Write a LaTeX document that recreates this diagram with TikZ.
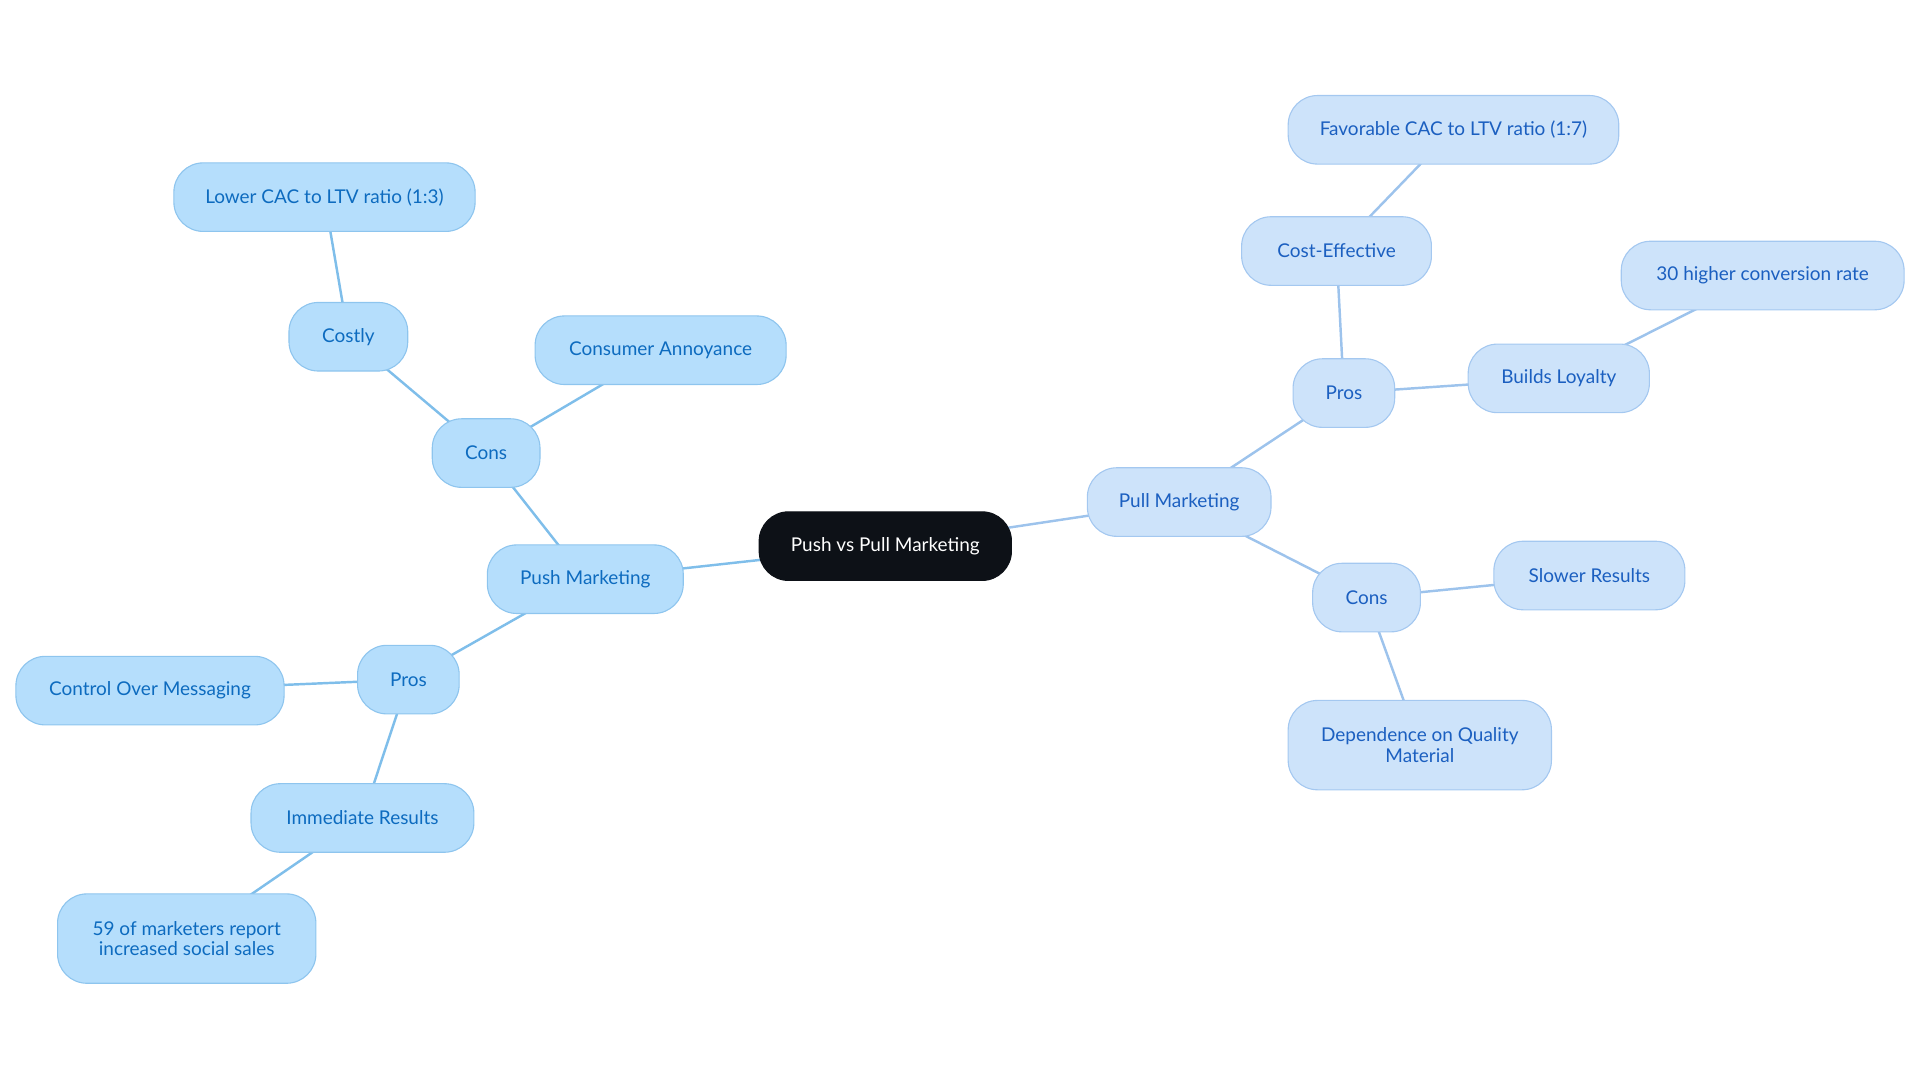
\documentclass[tikz,border=0pt]{standalone}
\usepackage{fontspec}
\setmainfont{Lato}
\pgfdeclarelayer{background}
\pgfsetlayers{background,main}
\definecolor{pushfill}{HTML}{B5DEFC}
\definecolor{pushdraw}{HTML}{8EC5EE}
\definecolor{pushtext}{HTML}{0D6BBF}
\definecolor{pullfill}{HTML}{CDE3FA}
\definecolor{pulldraw}{HTML}{A4C8F0}
\definecolor{pulltext}{HTML}{1B5FC0}
\definecolor{pushline}{HTML}{7FBEEA}
\definecolor{pullline}{HTML}{9DC3EC}
\definecolor{rootfill}{HTML}{0D1117}
\tikzset{
  box/.style={rectangle, rounded corners=24pt, inner sep=0pt, align=center, line width=0.9pt,
    font=\fontsize{15.5}{17}\selectfont, minimum height=56pt},
  pushbox/.style={box, fill=pushfill, draw=pushdraw, text=pushtext},
  pullbox/.style={box, fill=pullfill, draw=pulldraw, text=pulltext},
  rootbox/.style={box, fill=rootfill, draw=rootfill, text=white},
  pushedge/.style={draw=pushline, line width=2pt},
  pulledge/.style={draw=pullline, line width=2pt},
}
\begin{document}
\begin{tikzpicture}[x=1pt,y=-1pt]
\useasboundingbox (0,0) rectangle (1568,884);
% root
\node[rootbox, minimum width=206pt] (root) at (723,446) {Push vs Pull Marketing};
% push branch
\node[pushbox, minimum width=160pt] (push) at (478,473) {Push Marketing};
\node[pushbox, minimum width=88pt] (pcons) at (397,370) {Cons};
\node[pushbox, minimum width=97pt] (costly) at (284.5,275) {Costly};
\node[pushbox, minimum width=246pt] (lower) at (265,161) {Lower CAC to LTV ratio (1:3)};
\node[pushbox, minimum width=205pt] (annoy) at (539.5,286) {Consumer Annoyance};
\node[pushbox, minimum width=83pt] (ppros) at (333.5,555) {Pros};
\node[pushbox, minimum width=219pt] (control) at (122.5,564) {Control Over Messaging};
\node[pushbox, minimum width=182pt] (immed) at (296,668) {Immediate Results};
\node[pushbox, minimum width=211pt, minimum height=73pt] (social) at (152.5,766.5) {59 of marketers report\\increased social sales};
% pull branch
\node[pullbox, minimum width=150pt] (pull) at (963,410) {Pull Marketing};
\node[pullbox, minimum width=83pt] (lpros) at (1097.5,321) {Pros};
\node[pullbox, minimum width=155pt] (costeff) at (1091.5,205) {Cost-Effective};
\node[pullbox, minimum width=270pt] (favor) at (1187,106) {Favorable CAC to LTV ratio (1:7)};
\node[pullbox, minimum width=148pt] (loyal) at (1273,309) {Builds Loyalty};
\node[pullbox, minimum width=231pt] (conv) at (1439.5,225) {30 higher conversion rate};
\node[pullbox, minimum width=88pt] (lcons) at (1116,488) {Cons};
\node[pullbox, minimum width=156pt] (slower) at (1298,470) {Slower Results};
\node[pullbox, minimum width=215pt, minimum height=73pt] (depend) at (1159.5,608.5) {Dependence on Quality\\Material};
\begin{pgfonlayer}{background}
\draw[pushedge] (root.center) -- (push.center);
\draw[pushedge] (push.center) -- (pcons.center);
\draw[pushedge] (pcons.center) -- (costly.center);
\draw[pushedge] (costly.center) -- (lower.center);
\draw[pushedge] (pcons.center) -- (annoy.center);
\draw[pushedge] (push.center) -- (ppros.center);
\draw[pushedge] (ppros.center) -- (control.center);
\draw[pushedge] (ppros.center) -- (immed.center);
\draw[pushedge] (immed.center) -- (social.center);
\draw[pulledge] (root.center) -- (pull.center);
\draw[pulledge] (pull.center) -- (lpros.center);
\draw[pulledge] (lpros.center) -- (costeff.center);
\draw[pulledge] (costeff.center) -- (favor.center);
\draw[pulledge] (lpros.center) -- (loyal.center);
\draw[pulledge] (loyal.center) -- (conv.center);
\draw[pulledge] (pull.center) -- (lcons.center);
\draw[pulledge] (lcons.center) -- (slower.center);
\draw[pulledge] (lcons.center) -- (depend.center);
\end{pgfonlayer}
\end{tikzpicture}
\end{document}
